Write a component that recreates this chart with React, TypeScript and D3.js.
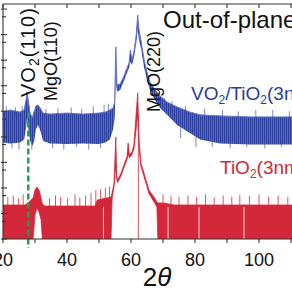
import React from "react";
import * as d3 from "d3";

// 2theta (deg) and log10 intensity: upper / lower edge of each noisy trace
const blueDeg = [20, 22.2, 25.3, 26.6, 27.2, 27.5, 27.8, 28.4, 29.1, 29.7, 30.3, 30.9, 31.6, 32.5, 34.7, 40, 45, 50, 52, 53.4, 54.4, 54.9, 55.25, 55.6, 56.6, 57.8, 58.75, 59.4, 59.8, 60.3, 60.9, 61.6, 62.1, 62.5, 63.1, 64.1, 65.0, 65.9, 67.5, 69.1, 71.25, 74.4, 78.4, 81.6, 87.8, 97.2, 110, 118];
const blueTop = [4.97, 5.05, 4.97, 5.05, 5.44, 5.76, 5.52, 4.97, 4.74, 4.97, 5.21, 5.25, 5.13, 4.93, 4.89, 4.93, 4.89, 4.93, 4.97, 5.05, 5.13, 5.36, 7.52, 6.03, 6.07, 6.38, 6.70, 6.89, 7.40, 7.01, 7.32, 7.95, 8.77, 8.18, 7.79, 7.01, 6.54, 6.15, 5.83, 5.60, 5.36, 5.17, 4.97, 4.86, 4.82, 4.78, 4.78, 4.78];
const blueBot = [3.78, 3.74, 3.78, 3.9, 4.35, 4.74, 4.46, 3.88, 3.64, 3.8, 4.3, 4.46, 4.27, 3.84, 3.74, 3.72, 3.74, 3.72, 3.78, 3.9, 4.3, 4.74, 6.23, 5.76, 5.83, 6.19, 6.50, 6.70, 6.93, 6.81, 7.09, 7.64, 8.18, 7.79, 7.48, 6.70, 6.23, 5.83, 5.44, 5.13, 4.86, 4.46, 4.15, 3.9, 3.74, 3.7, 3.7, 3.7];

const redDeg = [20, 26.9, 27.8, 28.75, 29.4, 30.0, 30.6, 31.25, 31.9, 32.3, 33.1, 48.75, 49.5, 53.75, 54.1, 54.7, 55.25, 55.5, 55.8, 56.9, 58.1, 58.75, 59.1, 59.5, 60.3, 60.9, 61.7, 62.1, 62.5, 63.1, 64.7, 65.6, 67.2, 68.1, 68.4, 70.3, 73.4, 118];
const redTop = [1.33, 1.33, 1.41, 1.53, 1.61, 1.92, 2.04, 1.92, 1.61, 1.37, 1.29, 1.29, 1.53, 1.64, 1.80, 2.19, 3.99, 2.51, 2.31, 2.58, 3.01, 3.21, 3.76, 3.29, 3.41, 3.68, 5.05, 5.72, 3.88, 2.98, 2.31, 1.92, 1.64, 1.45, 1.41, 1.41, 1.33, 1.33];
const redBot = [0, 0, 0, 0, 0, 0.94, 1.21, 1.06, 0.75, 0, 0, 0, 0, 0, 1.6, 2.05, 2.90, 2.4, 2.2, 2.48, 2.9, 3.1, 3.35, 3.18, 3.3, 3.52, 4.4, 4.95, 3.6, 2.85, 2.18, 1.78, 1.45, 1.25, 0, 0, 0, 0];

// single noise spikes: [2theta, from, to]
const blueSpikes = [[21.0, 4.8, 5.2], [22.8, 3.55, 3.9], [23.9, 4.8, 5.15], [25.0, 3.5, 3.9], [26.0, 4.8, 5.2], [29.0, 3.5, 3.8], [33.4, 4.8, 5.1], [35.5, 3.55, 3.8], [37.2, 4.8, 5.12], [39.0, 3.5, 3.8], [41.3, 4.8, 5.15], [43.0, 3.6, 3.8], [44.6, 4.8, 5.1], [46.8, 3.5, 3.8], [48.2, 4.8, 5.2], [50.5, 3.55, 3.8], [51.6, 4.8, 5.25], [53.0, 4.9, 5.3], [70.5, 5.2, 5.5], [72.8, 5.1, 5.4], [75.5, 3.95, 4.4], [77.0, 4.9, 5.2], [80.3, 3.6, 4.0], [83.0, 4.8, 5.1], [85.4, 3.6, 3.8], [88.6, 4.8, 5.05], [91.0, 3.55, 3.8], [93.5, 4.7, 5.0], [96.2, 3.6, 3.8], [99.0, 4.7, 5.05], [101.8, 3.55, 3.8], [104.3, 4.7, 5.05], [107.0, 3.6, 3.8], [109.5, 4.7, 5.0], [112.0, 3.6, 3.8]];
const redSpikes = [[21.5, 1.0, 1.65], [23.2, 1.0, 1.7], [24.8, 1.0, 1.6], [26.3, 1.0, 1.75], [34.5, 1.0, 1.6], [36.4, 1.0, 1.7], [38.0, 1.0, 1.65], [40.2, 1.0, 1.6], [42.5, 1.0, 1.75], [44.0, 1.0, 1.62], [45.8, 1.0, 1.7], [47.5, 1.0, 1.8], [49.0, 1.0, 1.9], [50.5, 1.0, 1.95], [52.0, 1.0, 2.0], [53.3, 1.0, 2.05], [62.3, 0, 4.8], [70.0, 1.0, 1.75], [72.5, 1.0, 1.7], [75.0, 1.0, 1.65], [77.8, 1.0, 1.7], [80.5, 1.0, 1.65], [83.3, 1.0, 1.75], [86.0, 1.0, 1.62], [88.8, 1.0, 1.7], [91.5, 1.0, 1.66], [94.0, 1.0, 1.72], [97.0, 1.0, 1.68], [100.0, 1.0, 1.74], [103.0, 1.0, 1.66], [106.0, 1.0, 1.7], [109.0, 1.0, 1.65], [112.0, 1.0, 1.72]];
const redGaps = [[51.4, 0, 1.25], [71.6, 0, 1.25], [81.25, 0, 1.25], [95.3, 0, 1.25]];

const vo2Peak = 27.9;
const xTickLabels = [20, 40, 60, 80, 100];
const xMinorTicks = [30, 50, 70, 90, 110];
const yMajorTicks = [0, 1, 2, 3, 4, 5, 6, 7, 8, 9];
const yMinorTicks = [0.7, 1.7, 2.7, 3.7, 4.7, 5.7, 6.7, 7.7, 8.7];

const W = 292, H = 292;
const blue = "#2b3d9d";
const red = "#d2283a";
const font = "'Liberation Sans', Arial, sans-serif";

export default function App() {
  const x = d3.scaleLinear().domain([20, 120]).range([3, 323]);
  const y = d3.scaleLinear().domain([0, 9.2]).range([239, 4]).clamp(true);

  const band = (deg: number[], top: number[], bot: number[]) =>
    d3.area<number>()
      .x((d) => x(d))
      .y0((d, i) => y(bot[i]))
      .y1((d, i) => y(top[i]))(deg) || "";
  const edge = (deg: number[], v: number[]) =>
    d3.line<number>().x((d) => x(d)).y((d, i) => y(v[i]))(deg) || "";

  return (
    <svg width={W} height={H} style={{ position: "absolute", left: 0, top: 0, display: "block", background: "#fff" }}>
      <defs>
        <clipPath id="plot"><rect x={3} y={4} width={400} height={235} /></clipPath>
        <pattern id="bluePat" width={2} height={4} patternUnits="userSpaceOnUse">
          <rect width={2} height={4} fill={blue} />
          <rect x={1} width={1} height={4} fill="#5769bb" />
        </pattern>
      </defs>

      <g clipPath="url(#plot)">
        {/* blue: VO2/TiO2 */}
        <path d={band(blueDeg, blueTop, blueBot)} fill="url(#bluePat)" stroke="none" />
        <path d={edge(blueDeg, blueTop)} fill="none" stroke="#6576c2" strokeWidth={1} />
        {blueSpikes.map((s, i) => (
          <line key={"b" + i} x1={x(s[0])} x2={x(s[0])} y1={y(s[1])} y2={y(s[2])} stroke="#4356ad" strokeWidth={0.7} />
        ))}

        {/* red: TiO2 */}
        <path d={band(redDeg, redTop, redBot)} fill={red} stroke={red} strokeWidth={0.8} />
        {redSpikes.map((s, i) => (
          <line key={"r" + i} x1={x(s[0])} x2={x(s[0])} y1={y(s[1])} y2={y(s[2])} stroke={red} strokeWidth={0.8} />
        ))}
        {redGaps.map((s, i) => (
          <line key={"g" + i} x1={x(s[0])} x2={x(s[0])} y1={y(s[1])} y2={y(s[2])} stroke="#fff" strokeWidth={0.8} />
        ))}
      </g>

      {/* VO2(110) marker */}
      <line x1={x(vo2Peak)} x2={x(vo2Peak)} y1={y(4.95)} y2={248} stroke="#1f9e55" strokeWidth={2.4} strokeDasharray="6,3" />

      {/* frame */}
      <g stroke="#333" strokeWidth={1.1} fill="none">
        <line x1={3} x2={W} y1={239} y2={239} />
        <line x1={3} x2={W} y1={4} y2={4} />
        <line x1={3} x2={3} y1={4} y2={239} />
        {[...xTickLabels, ...xMinorTicks].map((t) => (
          <g key={"xt" + t}>
            <line x1={x(t)} x2={x(t)} y1={239} y2={243} />
            <line x1={x(t)} x2={x(t)} y1={4} y2={8} />
          </g>
        ))}
        {yMajorTicks.map((t) => <line key={"ym" + t} x1={1} x2={7} y1={y(t)} y2={y(t)} />)}
        {yMinorTicks.map((t) => <line key={"yn" + t} x1={2} x2={6} y1={y(t)} y2={y(t)} />)}
      </g>

      <g fontFamily={font} fontSize={18} fill="#111" textAnchor="middle">
        {xTickLabels.map((t) => <text key={"xl" + t} x={x(t)} y={266}>{t}</text>)}
      </g>
      <text x={157} y={286} fontFamily={font} fontSize={26} textAnchor="middle" fill="#111">
        2<tspan fontStyle="italic">θ</tspan>
      </text>

      <text x={163} y={28} fontFamily={font} fontSize={24} fill="#111">Out-of-plane</text>

      <g fontFamily={font} fill="#111">
        <text transform={`translate(35,97) rotate(-90)`} fontSize={20} letterSpacing={1}>
          VO<tspan fontSize={14} dy={4}>2</tspan><tspan dy={-4}>(110)</tspan>
        </text>
        <text transform={`translate(57,101) rotate(-90)`} fontSize={18}>MgO(110)</text>
        <text transform={`translate(160,112) rotate(-90)`} fontSize={18}>MgO(220)</text>
      </g>

      <text x={191} y={100} fontFamily={font} fontSize={19} fill={blue}>
        VO<tspan fontSize={12} dy={4}>2</tspan><tspan dy={-4}>/TiO</tspan><tspan fontSize={12} dy={4}>2</tspan><tspan dy={-4}>(3nm)</tspan>
      </text>
      <text x={220} y={174} fontFamily={font} fontSize={19} fill={red}>
        TiO<tspan fontSize={12} dy={4}>2</tspan><tspan dy={-4}>(3nm)</tspan>
      </text>
    </svg>
  );
}
